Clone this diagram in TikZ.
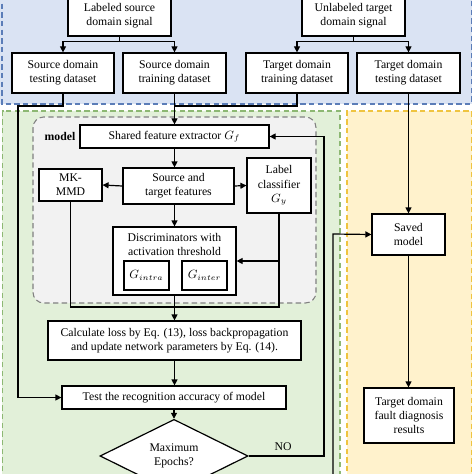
\documentclass[tikz,border=0pt]{standalone}
\usepackage{fontspec}
\setmainfont{Liberation Serif}
\usetikzlibrary{shapes.geometric,arrows.meta}
\definecolor{bluefill}{HTML}{DAE3F3}
\definecolor{blueline}{HTML}{5B7DB8}
\definecolor{greenfill}{HTML}{E2F0D9}
\definecolor{greenline}{HTML}{8DB873}
\definecolor{yellowfill}{HTML}{FFF2CC}
\definecolor{yellowline}{HTML}{EFC440}
\definecolor{grayfill}{HTML}{F2F2F2}
\definecolor{grayline}{HTML}{808080}
\tikzset{
  box/.style={draw=black, fill=white, line width=0.9pt, align=center, inner sep=1pt,
    font=\fontsize{8.8}{10.6}\selectfont},
  decision/.style={box, diamond, inner sep=0pt},
  conn/.style={line width=0.9pt, draw=black},
  arr/.style={conn, -{Triangle[length=4.5pt,width=4.5pt]}},
  region/.style={line width=0.8pt, dash pattern=on 4pt off 2.5pt},
  plain/.style={font=\fontsize{8.8}{10.6}\selectfont, inner sep=0pt, align=center},
}
\begin{document}
\begin{tikzpicture}[x=0.75pt,y=-0.75pt]
\useasboundingbox (0,0) rectangle (474,474);
% regions
\fill[bluefill] (0,-5) rectangle (472,104);
\draw[region, blueline] (2,-5) -- (2,104) -- (471.5,104) -- (471.5,-5);
\fill[greenfill] (2,111) rectangle (340,480);
\draw[region, greenline] (2.5,480) -- (2.5,111) -- (340,111) -- (340,480);
\fill[yellowfill] (347,111) rectangle (472,480);
\draw[region, yellowline] (347,480) -- (347,111) -- (471.5,111) -- (471.5,480);
\draw[region, grayline, fill=grayfill, rounded corners=8pt] (33,117) rectangle (316,303);
\node[plain, font=\fontsize{8.8}{10.6}\selectfont\bfseries] (modellabel) at (60,136) {model};
% nodes
\node[box, minimum width=77.25pt, minimum height=30pt] (lsrc) at (119.5,16) {Labeled source\\domain signal};
\node[box, minimum width=76.5pt, minimum height=30pt] (srctest) at (63,73) {Source domain\\testing dataset};
\node[box, minimum width=77.25pt, minimum height=30pt] (srctrain) at (174.5,73) {Source domain\\training dataset};
\node[box, minimum width=77.25pt, minimum height=30pt] (utgt) at (353.5,16) {Unlabeled target\\domain signal};
\node[box, minimum width=76.5pt, minimum height=30pt] (tgttrain) at (297,73) {Target domain\\training dataset};
\node[box, minimum width=77.25pt, minimum height=30pt] (tgttest) at (408.5,73) {Target domain\\testing dataset};
\node[box, minimum width=141.75pt, minimum height=17.25pt] (sfe) at (174.5,136.5) {Shared feature extractor $G_f$};
\node[box, minimum width=83.25pt, minimum height=27pt] (stf) at (178.5,186) {Source and\\target features};
\node[box, minimum width=47.25pt, minimum height=24pt] (mkmmd) at (70.5,185) {MK-\\MMD};
\node[box, minimum width=48pt, minimum height=41.25pt] (lcls) at (279,185.5) {Label\\classifier\\$G_y$};
\node[box, minimum width=92.25pt, minimum height=51pt] (disc) at (174.5,261) {};
\node[plain] (disctext) at (174.5,244.5) {Discriminators with\\activation threshold};
\node[box, minimum width=33.75pt, minimum height=21.75pt] (gintra) at (146.5,275.5) {$G_{intra}$};
\node[box, minimum width=33.75pt, minimum height=21.75pt] (ginter) at (204.5,275.5) {$G_{inter}$};
\node[box, minimum width=189.75pt, minimum height=29.25pt] (calc) at (174.5,340.5) {Calculate loss by Eq. (13), loss backpropagation\\and update network parameters by Eq. (14).};
\node[box, minimum width=168pt, minimum height=17.25pt] (test) at (174,397.5) {Test the recognition accuracy of model};
\node[decision, minimum width=111pt, minimum height=31.5pt] (maxep) at (174,456) {Maximum\\Epochs?};
\node[box, minimum width=54.75pt, minimum height=30.75pt] (saved) at (408.5,234.5) {Saved\\model};
\node[box, minimum width=67.5pt, minimum height=41.25pt] (result) at (409,415.5) {Target domain\\fault diagnosis\\results};
\node[plain] (nolabel) at (283,447) {NO};
% coordinates
\coordinate (jtrain) at (174.5,106);
\coordinate (jtest) at (18,106);
\coordinate (jno) at (324,456);
\coordinate (jyes) at (333,234);
\coordinate (jbot) at (174.5,307);
% connectors
\draw[arr] (lsrc.south) -- ++(0,5) -| (srctest.north);
\draw[arr] (lsrc.south) -- ++(0,5) -| (srctrain.north);
\draw[arr] (utgt.south) -- ++(0,5) -| (tgttrain.north);
\draw[arr] (utgt.south) -- ++(0,5) -| (tgttest.north);
\draw[arr] (srctrain.south) -- (sfe.north);
\draw[conn] (tgttrain.south) |- (jtrain);
\draw[arr] (srctest.south) |- (jtest) |- (test.west);
\draw[arr] (sfe.south) -- (sfe.south |- stf.north);
\draw[arr] (stf.west) -- (mkmmd.east);
\draw[arr] (stf.east) -- (lcls.west);
\draw[arr] (sfe.south |- stf.south) -- (disc.north);
\draw[arr] (lcls.south) -- (lcls.south |- disc.east) -- (disc.east);
\draw[conn] (lcls.south) |- (jbot);
\draw[conn] (mkmmd.south) |- (jbot);
\draw[arr] (disc.south) -- (calc.north);
\draw[arr] (calc.south) -- (calc.south |- test.north);
\draw[arr] (test.south) -- (test.south |- maxep.north);
\draw[arr] (maxep.east) -- (jno) |- (sfe.east);
\draw[arr] (maxep.south) -- ++(0,10) -| (jyes) -- (saved.west);
\draw[arr] (tgttest.south) -- (tgttest.south |- saved.north);
\draw[arr] (saved.south) -- (saved.south |- result.north);
\end{tikzpicture}
\end{document}
